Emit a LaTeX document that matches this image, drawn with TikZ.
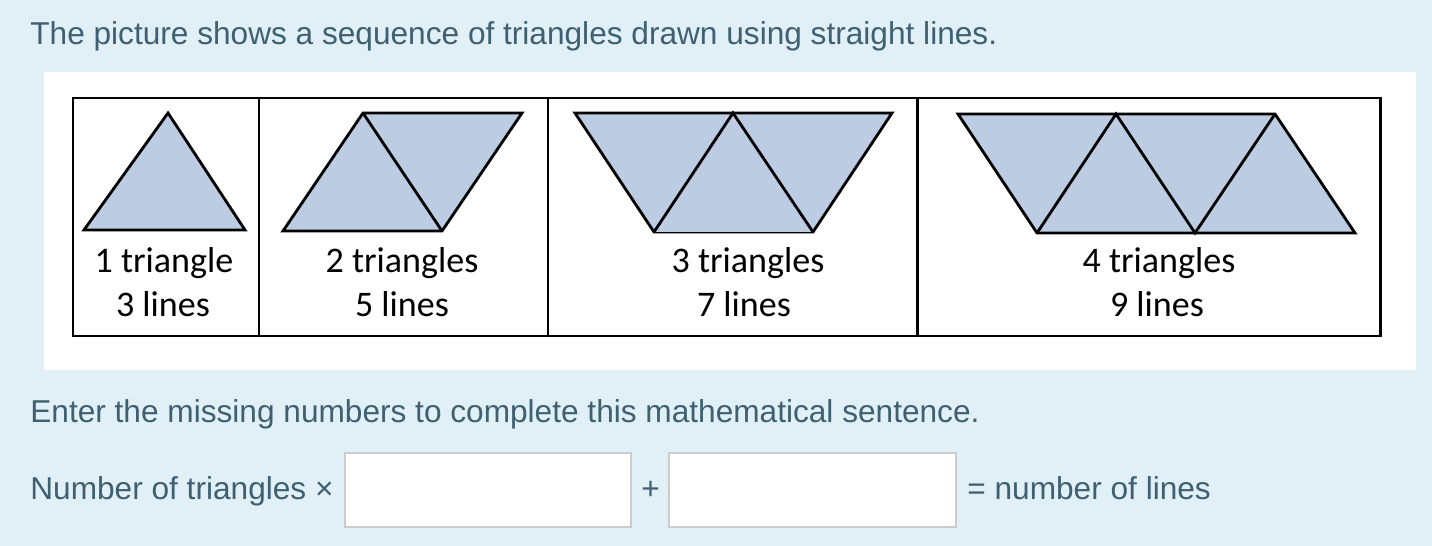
\documentclass[tikz,border=0pt]{standalone}
\usepackage{fontspec}
\setmainfont{Liberation Sans}
\newfontfamily\tablefont{Carlito}
\usetikzlibrary{positioning}
\definecolor{pagebg}{HTML}{E1EFF7}
\definecolor{qtext}{HTML}{3E6070}
\definecolor{trifill}{HTML}{BCCCE2}
\definecolor{boxline}{HTML}{CCCCCC}
\tikzset{
    question/.style = { anchor=base west, inner sep=0, text=qtext,
        font=\fontsize{18}{22}\selectfont
    },
    cell/.style = { draw, line width=1.6pt, rectangle,
        inner sep=0, outer sep=0,
        minimum height=4.76cm
    },
    count_text/.style = { anchor=base, inner sep=0,
        font=\tablefont\fontsize{20.5}{25}\selectfont
    },
    tri/.style = { draw, fill=trifill, line width=1.6pt, line join=miter },
    answer/.style = { draw=boxline, fill=white, line width=1pt,
        inner sep=0, outer sep=0,
        minimum width=5.72cm, minimum height=1.48cm
    }
}

\begin{document}
\begin{tikzpicture}[x=0.02cm, y=-0.02cm]
        \fill[pagebg] (0,0) rectangle (1432,546);
        \useasboundingbox (0,0) rectangle (1432,546);

        \node[question] (intro) at (30,45) {The picture shows a sequence of triangles drawn using straight lines.};

        % white panel and table...
        \node[fill=white, inner sep=0, minimum width=27.44cm, minimum height=5.96cm] (panel) at (730,221) {};
        \node[cell, minimum width=3.72cm, anchor=north west] (c1) at (73,98) {};
        \node[cell, minimum width=5.78cm] (c2) [right=0cm of c1] {};
        \node[cell, minimum width=7.40cm] (c3) [right=0cm of c2] {};
        \node[cell, minimum width=9.26cm] (c4) [right=0cm of c3] {};

        % 1 triangle...
        \draw[tri] (84,230) -- (168,113) -- (245,230) -- cycle;
        \node[count_text] (n1) at (164,273) {1 triangle};
        \node[count_text] (l1) at (163,317) {3 lines};

        % 2 triangles...
        \draw[tri] (283,231) -- (363,113) -- (522,113) -- (442,231) -- cycle;
        \draw[tri] (363,113) -- (442,231);
        \node[count_text] (n2) at (402,273) {2 triangles};
        \node[count_text] (l2) at (402,317) {5 lines};

        % 3 triangles...
        \draw[tri] (575,113) -- (892,113) -- (813,232) -- (654,232) -- cycle;
        \draw[tri] (654,232) -- (733,113) -- (813,232);
        \node[count_text] (n3) at (748,273) {3 triangles};
        \node[count_text] (l3) at (744,317) {7 lines};

        % 4 triangles...
        \draw[tri] (958,114) -- (1275,114) -- (1355,233) -- (1037,233) -- cycle;
        \draw[tri] (1037,233) -- (1116,114) -- (1195,233) -- (1275,114);
        \node[count_text] (n4) at (1159,273) {4 triangles};
        \node[count_text] (l4) at (1157,317) {9 lines};

        % sentence...
        \node[question] (prompt) at (30,423) {Enter the missing numbers to complete this mathematical sentence.};
        \node[question] (lhs) at (30,500) {Number of triangles ×};
        \node[answer] (box1) at (488,490) {};
        \node[answer, minimum width=5.74cm] (box2) [right=0.76cm of box1] {};
        \node[question] (plus) at (641,500) {+};
        \node[question] (rhs) at (967,500) {= number of lines};

    \end{tikzpicture}
\end{document}
